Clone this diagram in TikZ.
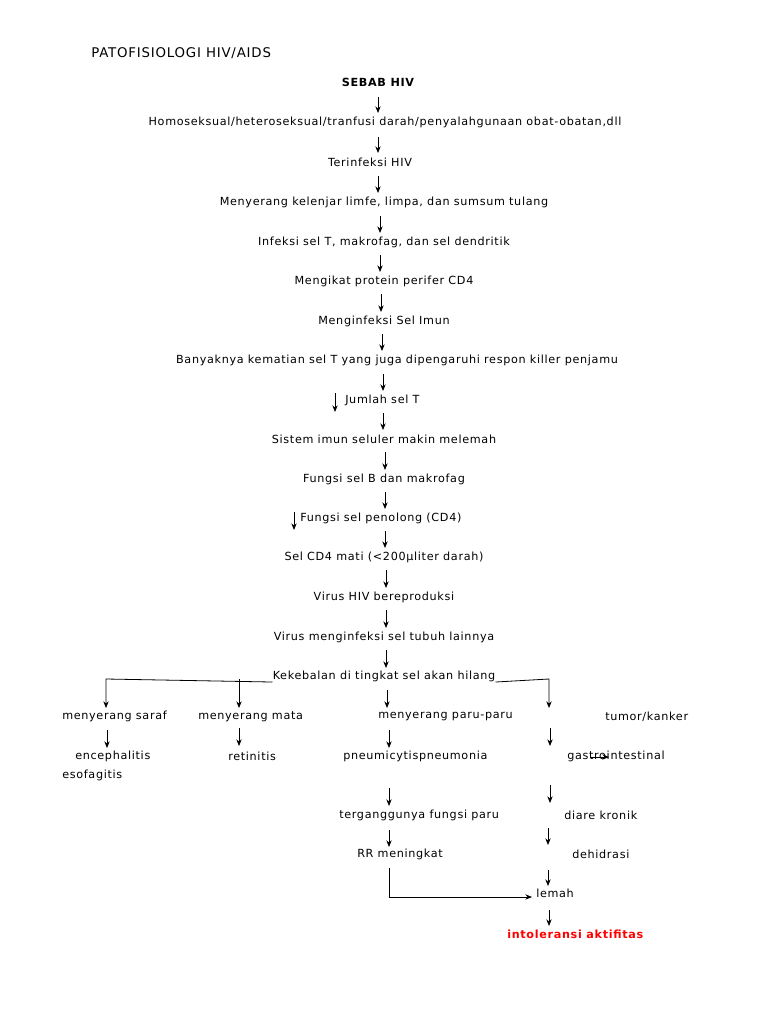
\documentclass[tikz,border=0pt]{standalone}
\usepackage{fontspec}
\usetikzlibrary{arrows.meta}
\setmainfont{DejaVu Sans}[LetterSpace=6]
\begin{document}
\begin{tikzpicture}[x=0.75pt,y=-0.75pt,
  t/.style={inner sep=0pt,yshift=-1pt,font=\fontsize{8.4}{10}\selectfont},
  l/.style={t,anchor=west},
  ar/.style={-{Stealth[length=5pt,width=4pt]},line width=0.6pt}]
\useasboundingbox (0,0) rectangle (768,1024);
\node[l,font=\fontsize{10}{12}\selectfont] (title) at (91,52) {PATOFISIOLOGI HIV/AIDS};
\node[t,font=\fontsize{8.4}{10}\selectfont\bfseries] (n0) at (378,81) {SEBAB HIV};
\node[t] (n1) at (385,121) {Homoseksual/heteroseksual/tranfusi darah/penyalahgunaan obat-obatan,dll};
\node[t] (n2) at (370,161) {Terinfeksi HIV};
\node[t] (n3) at (384,201) {Menyerang kelenjar limfe, limpa, dan sumsum tulang};
\node[t] (n4) at (384,241) {Infeksi sel T, makrofag, dan sel dendritik};
\node[t] (n5) at (384,280) {Mengikat protein perifer CD4};
\node[t] (n6) at (384,320) {Menginfeksi Sel Imun};
\node[t] (n7) at (397,359) {Banyaknya kematian sel T yang juga dipengaruhi respon killer penjamu};
\node[l] (n8) at (345,399) {Jumlah sel T};
\node[t] (n9) at (384,438) {Sistem imun seluler makin melemah};
\node[t] (n10) at (384,478) {Fungsi sel B dan makrofag};
\node[l] (n11) at (300,517) {Fungsi sel penolong (CD4)};
\node[t] (n12) at (384,556) {Sel CD4 mati (<200µliter darah)};
\node[t] (n13) at (384,596) {Virus HIV bereproduksi};
\node[t] (n14) at (384,636) {Virus menginfeksi sel tubuh lainnya};
\node[t] (n15) at (384,675) {Kekebalan di tingkat sel akan hilang};
\node[l] (a1) at (62,715) {menyerang saraf};
\node[l] (b1) at (198,715) {menyerang mata};
\node[l] (c1) at (378,715) {menyerang paru-paru};
\node[l] (d1) at (605,715) {tumor/kanker};
\node[l] (a2) at (75,755) {encephalitis};
\node[l] (a3) at (62,774) {esofagitis};
\node[l] (b2) at (228,755) {retinitis};
\node[l] (c2) at (343,755) {pneumicytispneumonia};
\node[l] (d2) at (567,755) {gastrointestinal};
\node[l] (c3) at (339,814) {terganggunya fungsi paru};
\node[l] (d3) at (564,814) {diare kronik};
\node[l] (c4) at (357,853) {RR meningkat};
\node[l] (d4) at (572,853) {dehidrasi};
\node[l] (e1) at (536,892) {lemah};
\node[l,text=red,font=\fontsize{8.4}{10}\selectfont\bfseries] (e2) at (507,933) {intoleransi aktifitas};
% main chain
\foreach \x/\a/\b in {378/97/113,378/137/153,378/176/193,380/216/233,380/255/272,381/294/312,382/334/351,383/374/391,383/413/430,385/452/470,385/492/509,385/531/548,386/570/588,386/610/628,386/650/668}
  \draw[ar] (\x,\a) -- (\x,\b);
\draw[ar] (335,393) -- (335,412);
\draw[ar] (294,512) -- (294,530);
% branches
\coordinate (kl) at (n15.south west);
\coordinate (kr) at (n15.south east);
\draw[ar] (kl) -- (106,679) -- (106,708);
\draw[ar] (239,679) -- (239,708);
\draw[ar] (kr) -- (549,679) -- (549,708);
\draw[ar] (387,690) -- (387,708);
\foreach \x/\a/\b in {107/730/748,239/728/746,389/730/748,550/728/746,389/788/806,550/785/803,389/830/847,548/828/845,548/870/886,549/910/926}
  \draw[ar] (\x,\a) -- (\x,\b);
\draw[ar] (590,757) -- (609,757);
\draw[ar] (389,868) -- (389,897) -- (532,897);
\end{tikzpicture}
\end{document}
